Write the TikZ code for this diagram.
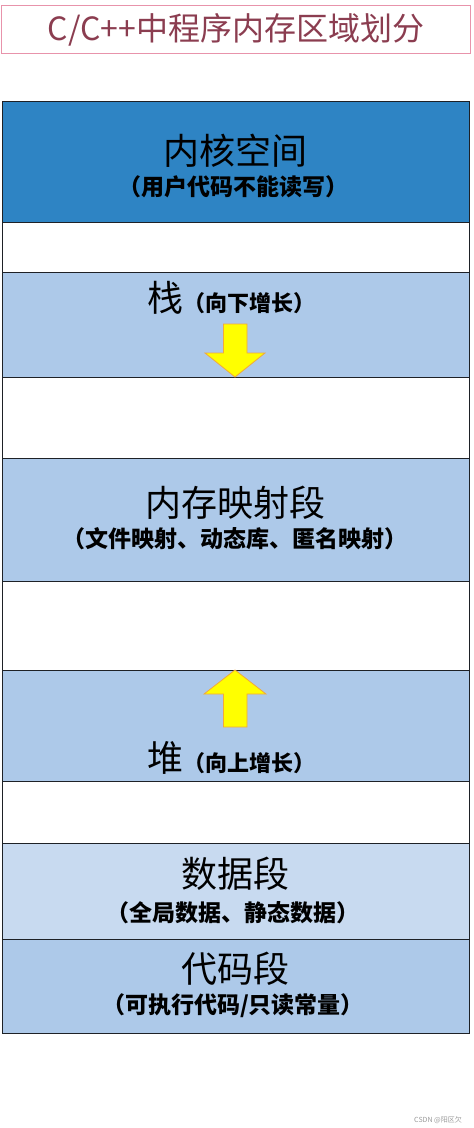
\documentclass[tikz,border=0pt]{standalone}
\usepackage{fontspec}
\newfontfamily\cjk{Noto Sans CJK SC}
\usetikzlibrary{calc}
\definecolor{kernelblue}{HTML}{2E84C4}
\definecolor{segblue}{HTML}{ADC9E9}
\definecolor{datablue}{HTML}{C8DAF0}
\definecolor{titlered}{HTML}{8B3D50}
\definecolor{titlepink}{HTML}{E893AB}
\definecolor{arrowyellow}{HTML}{FFFF00}
\definecolor{arroworange}{HTML}{F2A93B}
\definecolor{framedark}{HTML}{1E2126}
\tikzset{
  region/.style={draw=framedark, line width=1.3pt, minimum width=467pt, inner sep=0pt, anchor=north west},
  bigtext/.style={font=\cjk\fontsize{36}{38}\selectfont, inner sep=0pt, text=black},
  subtext/.style={font=\cjk\bfseries\fontsize{23}{26}\selectfont, inner sep=0pt, text=black},
  growarrow/.style={fill=arrowyellow, draw=arroworange, line width=0.8pt, line join=miter},
}
\begin{document}
\begin{tikzpicture}[x=1pt,y=-1pt]
\useasboundingbox (0,0) rectangle (474,1128);
% title
\node[draw=titlepink, line width=0.8pt, minimum width=469pt, minimum height=48pt, anchor=north west, inner sep=0pt,
      font=\cjk\fontsize{32}{34}\selectfont, text=titlered] (title) at (1,5) {C/C++中程序内存区域划分};
% memory regions
\node[region, fill=kernelblue, minimum height=121pt] (kernel) at (2,101) {};
\node[region, fill=white, minimum height=50pt] (gapA) at (2,222) {};
\node[region, fill=segblue, minimum height=105pt] (stack) at (2,272) {};
\node[region, fill=white, minimum height=81pt] (gapB) at (2,377) {};
\node[region, fill=segblue, minimum height=123pt] (mmap) at (2,458) {};
\node[region, fill=white, minimum height=89pt] (gapC) at (2,581) {};
\node[region, fill=segblue, minimum height=111pt] (heap) at (2,670) {};
\node[region, fill=white, minimum height=62pt] (gapD) at (2,781) {};
\node[region, fill=datablue, minimum height=96pt] (data) at (2,843) {};
\node[region, fill=segblue, minimum height=94pt] (code) at (2,939) {};
% texts
\node[bigtext] (kernelT) at (235,151) {内核空间};
\node[subtext] (kernelS) at (233,187) {（用户代码不能读写）};
\node[inner sep=0pt, anchor=base] (stackT) at (231,311) {{\cjk\fontsize{36}{38}\selectfont 栈}{\cjk\bfseries\fontsize{22}{24}\selectfont （向下增长）}};
\node[bigtext] (mmapT) at (235,503) {内存映射段};
\node[subtext] (mmapS) at (235,539) {（文件映射、动态库、匿名映射）};
\node[inner sep=0pt, anchor=base] (heapT) at (231,771) {{\cjk\fontsize{36}{38}\selectfont 堆}{\cjk\bfseries\fontsize{22}{24}\selectfont （向上增长）}};
\node[bigtext] (dataT) at (235,874) {数据段};
\node[subtext] (dataS) at (233,913) {（全局数据、静态数据）};
\node[bigtext] (codeT) at (235,969) {代码段};
\node[subtext] (codeS) at (233,1006) {（可执行代码/只读常量）};
% growth arrows
\draw[growarrow] (223.5,324) -- (247,324) -- (247,353) -- (265,353) -- (235,377) -- (205,353) -- (223.5,353) -- cycle;
\draw[growarrow] (223.5,727) -- (247,727) -- (247,694) -- (266,694) -- (235,670) -- (204,694) -- (223.5,694) -- cycle;
% watermark
\node[font=\cjk\fontsize{7}{8}\selectfont, text=black!40, inner sep=0pt] (mark) at (438,1120) {CSDN @阳区欠};
\end{tikzpicture}
\end{document}
